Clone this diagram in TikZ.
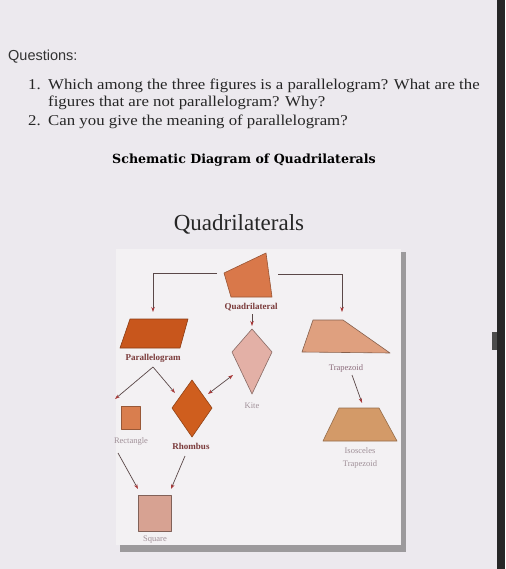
\documentclass[tikz,border=0pt]{standalone}
\usepackage{fontspec}
\setmainfont{Liberation Serif}
\newfontfamily\qsans{Liberation Sans}
\newfontfamily\qserif[FakeStretch=1.12]{Liberation Serif}
\newfontfamily\dserif{DejaVu Serif}
\usetikzlibrary{arrows.meta}
\definecolor{bgc}{HTML}{ECE9EE}
\definecolor{framec}{HTML}{F3F1F3}
\definecolor{shadowc}{HTML}{9C9A9C}
\definecolor{linec}{HTML}{5A4848}
\definecolor{tipc}{HTML}{A83A3A}
\definecolor{quadc}{HTML}{D9784A}
\definecolor{parac}{HTML}{C8561C}
\definecolor{kitec}{HTML}{E3B0A6}
\definecolor{trapc}{HTML}{DFA07F}
\definecolor{isoc}{HTML}{D39A68}
\definecolor{rhomc}{HTML}{CF5E1E}
\definecolor{rectc}{HTML}{D97E4E}
\definecolor{sqc}{HTML}{D7A292}
\definecolor{darklab}{HTML}{7A3A3A}
\definecolor{midlab}{HTML}{8A6A7A}
\definecolor{lightlab}{HTML}{A09098}
\tikzset{
  shapeline/.style={draw=#1, line width=0.6pt, line join=round},
  conn/.style={draw=linec, line width=0.7pt, -{Stealth[length=5pt,width=3.5pt,color=tipc]}},
  conn2/.style={draw=linec, line width=0.7pt, {Stealth[length=5pt,width=3.5pt,color=tipc]}-{Stealth[length=5pt,width=3.5pt,color=tipc]}},
  lab/.style={font=\fontsize{9}{10}\selectfont\bfseries, inner sep=0pt},
  labl/.style={font=\fontsize{8.5}{10}\selectfont, inner sep=0pt},
  qtext/.style={anchor=base west, inner sep=0pt, font=\qserif\fontsize{15}{16}\selectfont, text=black!85},
}
\begin{document}
\begin{tikzpicture}[x=1pt,y=-1pt]
\useasboundingbox (0,0) rectangle (505,569);
\fill[bgc] (0,0) rectangle (505,569);
\fill[black!85] (497,0) rectangle (505,569);
\fill[black!70] (492,332) rectangle (497,350);
% questions
\node[anchor=base west, inner sep=0pt, font=\qsans\fontsize{14.5}{16}\selectfont, text=black!80] (qh) at (8,61) {Questions:};
\node[qtext] (n1) at (28,90) {1.};
\node[qtext] (l1) at (48,90) {Which among the three figures is a parallelogram? What are the};
\node[qtext] (l2) at (48,107) {figures that are not parallelogram? Why?};
\node[qtext] (n2) at (28,126) {2.};
\node[qtext] (l3) at (48,126) {Can you give the meaning of parallelogram?};
\node[anchor=base, inner sep=0pt, font=\dserif\bfseries\fontsize{12.6}{14}\selectfont] (title) at (244,164) {Schematic Diagram of Quadrilaterals};
\node[anchor=base, inner sep=0pt, font=\fontsize{23}{26}\selectfont, text=black!85] (big) at (239,230) {Quadrilaterals};
% frame
\fill[shadowc] (120,252) rectangle (406,552);
\fill[framec] (116,249) rectangle (401,545);
% shapes
\draw[shapeline=quadc!70!black, fill=quadc] (224,273) -- (266,253) -- (272,297) -- (231,297) -- cycle;
\draw[shapeline=parac!70!black, fill=parac] (130,319) -- (188,319) -- (180,348) -- (120,348) -- cycle;
\draw[shapeline=kitec!60!black, fill=kitec] (252,329) -- (272,352) -- (252,394) -- (232,352) -- cycle;
\draw[shapeline=trapc!60!black, fill=trapc] (313,320) -- (343,320) -- (390,353) -- (302,352) -- cycle;
\draw[shapeline=isoc!70!black, fill=isoc] (339,408) -- (379,408) -- (397,441) -- (323,441) -- cycle;
\draw[shapeline=rhomc!70!black, fill=rhomc] (192,380) -- (212,408) -- (192,437) -- (172,408) -- cycle;
\draw[shapeline=rectc!70!black, fill=rectc] (121,406) rectangle (140,429);
\draw[shapeline=sqc!60!black, fill=sqc] (138,495) rectangle (171,531);
% labels
\node[lab, text=darklab] (lquad) at (251,307) {Quadrilateral};
\node[lab, text=darklab] (lpara) at (153,358) {Parallelogram};
\node[labl, text=lightlab] (lkite) at (252,406) {Kite};
\node[labl, text=midlab] (ltrap) at (346,368) {Trapezoid};
\node[labl, text=lightlab, align=center] (liso) at (360,458) {Isosceles\\[3pt]Trapezoid};
\node[lab, text=darklab] (lrhom) at (191,446) {Rhombus};
\node[labl, text=lightlab] (lrect) at (131,441) {Rectangle};
\node[labl, text=lightlab] (lsq) at (155,540) {Square};
% connector coordinates
\coordinate (qL) at (217,273);
\coordinate (pT) at (153,312);
\coordinate (qR) at (278,274);
\coordinate (tT) at (342,312);
\coordinate (qB) at (252,314);
\coordinate (kT) at (252,326);
\coordinate (pA) at (153,367);
\coordinate (rT) at (115,399);
\coordinate (hT) at (175,393);
\coordinate (kL) at (233,375);
\coordinate (hR) at (208,394);
\coordinate (tB) at (352,375);
\coordinate (iT) at (362,403);
\coordinate (rB) at (118,453);
\coordinate (sL) at (138,489);
\coordinate (hB) at (185,456);
\coordinate (sR) at (171,489);
% connectors
\draw[conn] (qL) -| (pT);
\draw[conn] (qR) -| (tT);
\draw[conn] (qB) -- (kT);
\draw[conn] (pA) -- (rT);
\draw[conn] (pA) -- (hT);
\draw[conn2] (kL) -- (hR);
\draw[conn] (tB) -- (iT);
\draw[conn] (rB) -- (sL);
\draw[conn] (hB) -- (sR);
\end{tikzpicture}
\end{document}
